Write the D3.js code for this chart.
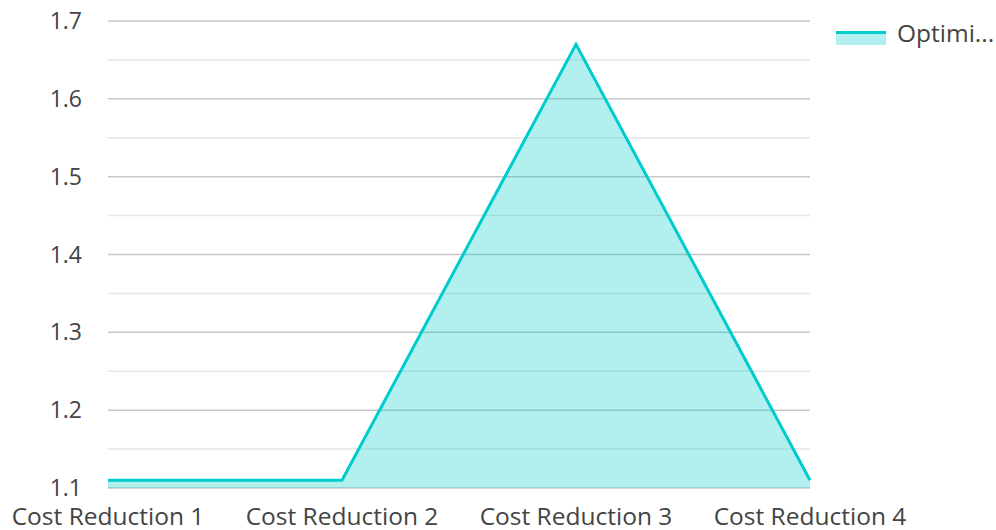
<!DOCTYPE html>
<html>
<head>
<meta charset="utf-8">
<script src="https://cdn.jsdelivr.net/npm/d3@7"></script>
<style>
  body { margin: 0; background: #fff; }
  text { font-family: "Open Sans", "Noto Sans", sans-serif; fill: #444; }
</style>
</head>
<body>
<div id="chart"></div>
<script>
const categories = ['Cost Reduction 1', 'Cost Reduction 2', 'Cost Reduction 3', 'Cost Reduction 4'];
const values = [1.11, 1.11, 1.67, 1.11];
const seriesName = 'Optimi...';
const yTicks = [1.1, 1.2, 1.3, 1.4, 1.5, 1.6, 1.7];
const yMinorTicks = [1.15, 1.25, 1.35, 1.45, 1.55, 1.65];

const margin = ({top: 21, right: 186, bottom: 42, left: 108});
const width = 996 - margin.left - margin.right;
const height = 530 - margin.top - margin.bottom;

const svg = d3.select('#chart')
    .append('svg')
    .attr('width', 996)
    .attr('height', 530)
    .append('g')
    .attr('transform', 'translate(' + margin.left + ',' + margin.top + ')');

const xScale = d3.scalePoint()
    .domain(categories)
    .range([0, width]);

const yScale = d3.scaleLinear()
    .domain([1.1, 1.7])
    .range([height, 0]);

// grid
svg.selectAll('.minor')
    .data(yMinorTicks)
    .enter()
    .append('line')
    .attr('x1', 0).attr('x2', width)
    .attr('y1', d => yScale(d)).attr('y2', d => yScale(d))
    .attr('stroke', '#e6e6e6')
    .attr('stroke-width', 1.5);

svg.selectAll('.major')
    .data(yTicks)
    .enter()
    .append('line')
    .attr('x1', 0).attr('x2', width)
    .attr('y1', d => yScale(d)).attr('y2', d => yScale(d))
    .attr('stroke', '#c8c8c8')
    .attr('stroke-width', 1.5);

svg.selectAll('.ylabel')
    .data(yTicks)
    .enter()
    .append('text')
    .attr('x', -26)
    .attr('y', d => yScale(d))
    .attr('dy', '0.35em')
    .attr('text-anchor', 'end')
    .style('font-size', '23px')
    .text(d => d3.format('.1f')(d));

svg.selectAll('.xlabel')
    .data(categories)
    .enter()
    .append('text')
    .attr('x', d => xScale(d))
    .attr('y', height + 37)
    .attr('text-anchor', 'middle')
    .style('font-size', '24.5px')
    .text(d => d);

const area = d3.area()
    .x((d, i) => xScale(categories[i]))
    .y0(height)
    .y1(d => yScale(d));

const line = d3.line()
    .x((d, i) => xScale(categories[i]))
    .y(d => yScale(d));

svg.append('path')
    .datum(values)
    .attr('fill', '#00cccc')
    .attr('fill-opacity', 0.3)
    .attr('d', area);

svg.append('path')
    .datum(values)
    .attr('fill', 'none')
    .attr('stroke', '#00cccc')
    .attr('stroke-width', 3)
    .attr('d', line);

// legend
const legend = svg.append('g')
    .attr('transform', 'translate(' + (width + 26) + ',10)');
legend.append('rect')
    .attr('x', 0).attr('y', 0)
    .attr('width', 50).attr('height', 14)
    .attr('fill', '#00cccc')
    .attr('fill-opacity', 0.3);
legend.append('line')
    .attr('x1', 0).attr('x2', 50)
    .attr('y1', 1.5).attr('y2', 1.5)
    .attr('stroke', '#00cccc')
    .attr('stroke-width', 3);
legend.append('text')
    .attr('x', 61)
    .attr('y', 11)
    .style('font-size', '24.5px')
    .text(seriesName);
</script>
</body>
</html>
